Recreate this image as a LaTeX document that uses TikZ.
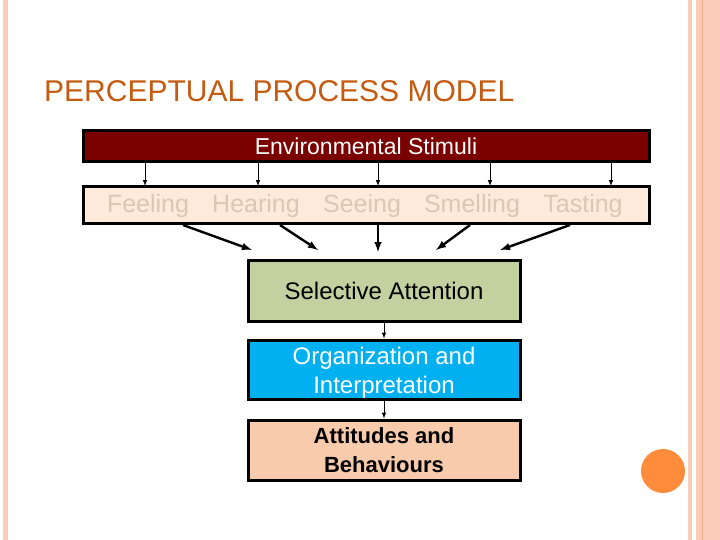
\documentclass[tikz,border=0pt]{standalone}
\usepackage{fontspec}
\setmainfont{Liberation Sans}
\begin{document}
\begin{tikzpicture}[x=1pt,y=-1pt,
  bx/.style={draw=black,line width=3pt,inner sep=0pt},
  thin/.style={-latex,line width=1pt},
  thick/.style={-latex,line width=2.4pt},
  sense/.style={text=senseTxt,font=\fontsize{25}{25}\selectfont}]
\definecolor{titleC}{HTML}{C55A11}
\definecolor{stripe}{HTML}{F9CBB8}
\definecolor{stripeD}{HTML}{E9A88C}
\definecolor{envC}{HTML}{7B0000}
\definecolor{senseC}{HTML}{FDEADA}
\definecolor{senseTxt}{HTML}{D8C8B4}
\definecolor{selC}{HTML}{C3D09F}
\definecolor{orgC}{HTML}{00B0F0}
\definecolor{attC}{HTML}{F9CBAD}
\definecolor{dotC}{HTML}{FF8C3A}
\useasboundingbox (0,0) rectangle (720,540);
\fill[white] (0,0) rectangle (720,540);
\fill[stripe] (3,0) rectangle (8,540);
\fill[stripe] (688,0) rectangle (692,540);
\fill[stripe] (696,0) rectangle (720,540);
\draw[stripeD,line width=1pt] (702,0) -- (702,540);
\node[anchor=west,inner sep=0pt,text=titleC,font=\fontsize{30}{30}\selectfont] (title) at (44,91) {PERCEPTUAL PROCESS MODEL};
\node[bx,fill=envC,minimum width=566,minimum height=31,text=white,font=\fontsize{23}{23}\selectfont] (env) at (366,146.5) {Environmental Stimuli};
\node[bx,fill=senseC,minimum width=566,minimum height=37] (sen) at (366,205.5) {};
\node[sense] (f) at (148,206) {Feeling};
\node[sense] (h) at (256,206) {Hearing};
\node[sense] (s) at (362,206) {Seeing};
\node[sense] (sm) at (472,206) {Smelling};
\node[sense] (t) at (583,206) {Tasting};
\node[bx,fill=selC,minimum width=272,minimum height=61,font=\fontsize{24}{24}\selectfont] (sel) at (384,290.5) {Selective Attention};
\node[bx,fill=orgC,minimum width=272,minimum height=59,text=white,align=center,font=\fontsize{24}{29}\selectfont] (org) at (384,369.5) {};
\node[text=white,align=center,font=\fontsize{24}{29}\selectfont] (orgt) at (384,372.5) {Organization and\\Interpretation};
\node[bx,fill=attC,minimum width=272,minimum height=60,align=center,font=\fontsize{22}{29}\selectfont\bfseries] (att) at (384,450) {Attitudes and\\Behaviours};
\fill[dotC] (663,471) circle (22);
\foreach \x in {145,258,378,490,611}
  \draw[thin] (\x,163) -- (\x,186);
\draw[thick] (183,225) -- (252,250);
\draw[thick] (280,225) -- (318,250);
\draw[thick] (378,225) -- (378,252);
\draw[thick] (470,225) -- (436,250);
\draw[thick] (570,225) -- (500,250);
\draw[thin] (sel.south) -- (org.north);
\draw[thin] (org.south) -- (att.north);
\end{tikzpicture}
\end{document}
